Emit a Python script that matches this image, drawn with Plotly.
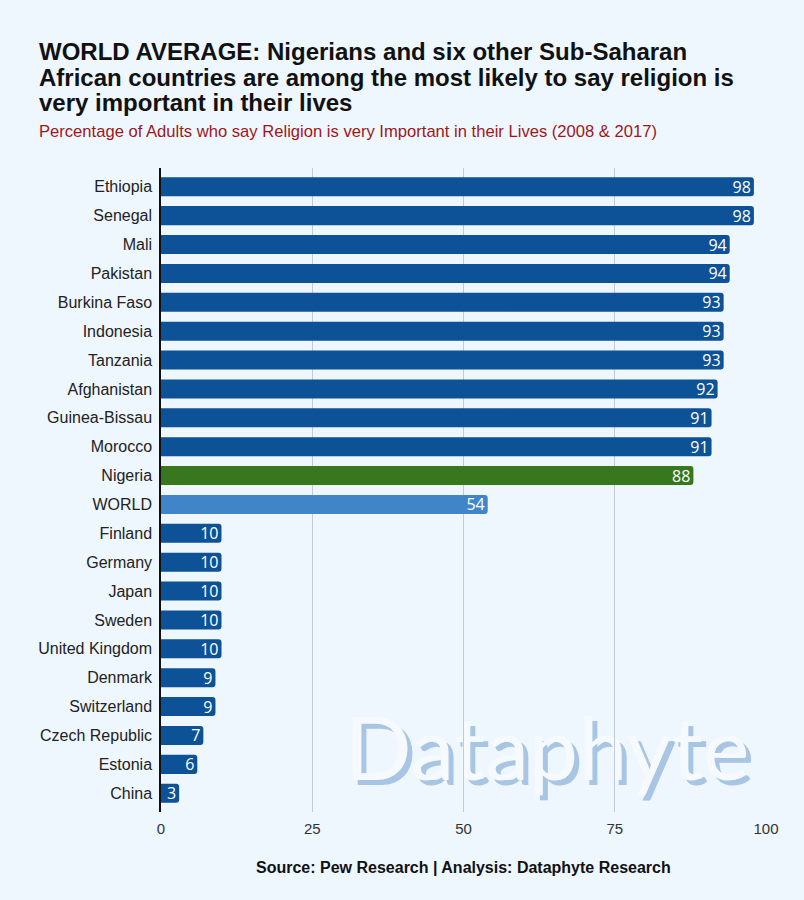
import plotly.graph_objects as go

countries = ["Ethiopia", "Senegal", "Mali", "Pakistan", "Burkina Faso", "Indonesia",
             "Tanzania", "Afghanistan", "Guinea-Bissau", "Morocco", "Nigeria", "WORLD",
             "Finland", "Germany", "Japan", "Sweden", "United Kingdom", "Denmark",
             "Switzerland", "Czech Republic", "Estonia", "China"]
values = [98, 98, 94, 94, 93, 93, 93, 92, 91, 91, 88, 54,
          10, 10, 10, 10, 10, 9, 9, 7, 6, 3]

DARK = "#0D5296"
GREEN = "#37781E"
LIGHT = "#3F85C8"
colors = [GREEN if c == "Nigeria" else LIGHT if c == "WORLD" else DARK for c in countries]

BG = "#EEF6FE"
W, H = 804, 900
ML, MR, MT, MB = 161, 38, 168, 88
PH = H - MT - MB
PW = W - ML - MR

def py(px):
    return (H - MB - px) / PH

def pxx(px):
    return (px - ML) / PW

fig = go.Figure(go.Bar(
    x=values, y=countries, orientation="h",
    marker=dict(color=colors, line=dict(width=0)),
    width=0.66,
    text=[str(v) for v in values],
    textposition="inside", insidetextanchor="end", textangle=0,
    textfont=dict(family="Open Sans, Noto Sans, sans-serif", size=16, color="white"),
    constraintext="none", cliponaxis=False,
    hoverinfo="skip",
))

fig.update_layout(
    width=W, height=H,
    margin=dict(l=ML, r=MR, t=MT, b=MB),
    paper_bgcolor=BG, plot_bgcolor=BG,
    barcornerradius=3,
    showlegend=False,
    font=dict(family="Liberation Sans, Arial, sans-serif"),
)

fig.update_yaxes(
    range=[len(countries) - 1 + 0.65, -0.65], categoryorder="array", categoryarray=countries,
    showline=True, linecolor="#111", linewidth=1.5,
    showgrid=False, ticks="", ticklabelstandoff=4,
    tickfont=dict(size=16, color="#222"),
)
fig.update_xaxes(
    range=[0, 100], tickvals=[0, 25, 50, 75, 100],
    showgrid=True, gridcolor="#C4CAD2", gridwidth=1,
    zeroline=False, showline=False, ticks="", ticklabelstandoff=6,
    tickfont=dict(size=15, color="#333"),
)

title_lines = [
    ("WORLD AVERAGE: Nigerians and six other Sub-Saharan", 51),
    ("African countries are among the most likely to say religion is", 77),
    ("very important in their lives", 102),
]
for txt, ypx in title_lines:
    fig.add_annotation(text="<b>" + txt + "</b>", xref="paper", yref="paper",
                       x=pxx(37), y=py(ypx), xanchor="left", yanchor="middle",
                       showarrow=False,
                       font=dict(size=24, color="#111", family="Liberation Sans, Arial, sans-serif"))

fig.add_annotation(text="Percentage of Adults who say Religion is very Important in their Lives (2008 & 2017)",
                   xref="paper", yref="paper", x=pxx(37), y=py(131), xanchor="left", yanchor="middle",
                   showarrow=False,
                   font=dict(size=16.6, color="#A0171A", family="Liberation Sans, Arial, sans-serif"))

fig.add_annotation(text="<b>Source: Pew Research | Analysis: Dataphyte Research</b>",
                   xref="paper", yref="paper", x=pxx(463), y=py(867), xanchor="center", yanchor="middle",
                   showarrow=False,
                   font=dict(size=16, color="#111", family="Liberation Sans, Arial, sans-serif"))

# Watermark
def wm(color, dx, dy):
    cx, cy = 552 + dx, 750 + dy
    fig.add_shape(type="rect", xref="paper", yref="paper",
                  x0=pxx(cx - 235), x1=pxx(cx + 235), y0=py(cy + 48), y1=py(cy - 48),
                  line=dict(width=0), fillcolor="rgba(0,0,0,0)", layer="below",
                  label=dict(text="Dataphyte", textposition="middle center",
                             font=dict(size=88, color=color, family="Lato, Noto Sans, sans-serif")))

wm("#A8C5E3", 0, 0)
wm("#F6FAFE", -5, -5)

fig.write_html("out.html", config={"displayModeBar": False},
               post_script="document.body.style.margin='0';document.body.style.background='" + BG + "';")
